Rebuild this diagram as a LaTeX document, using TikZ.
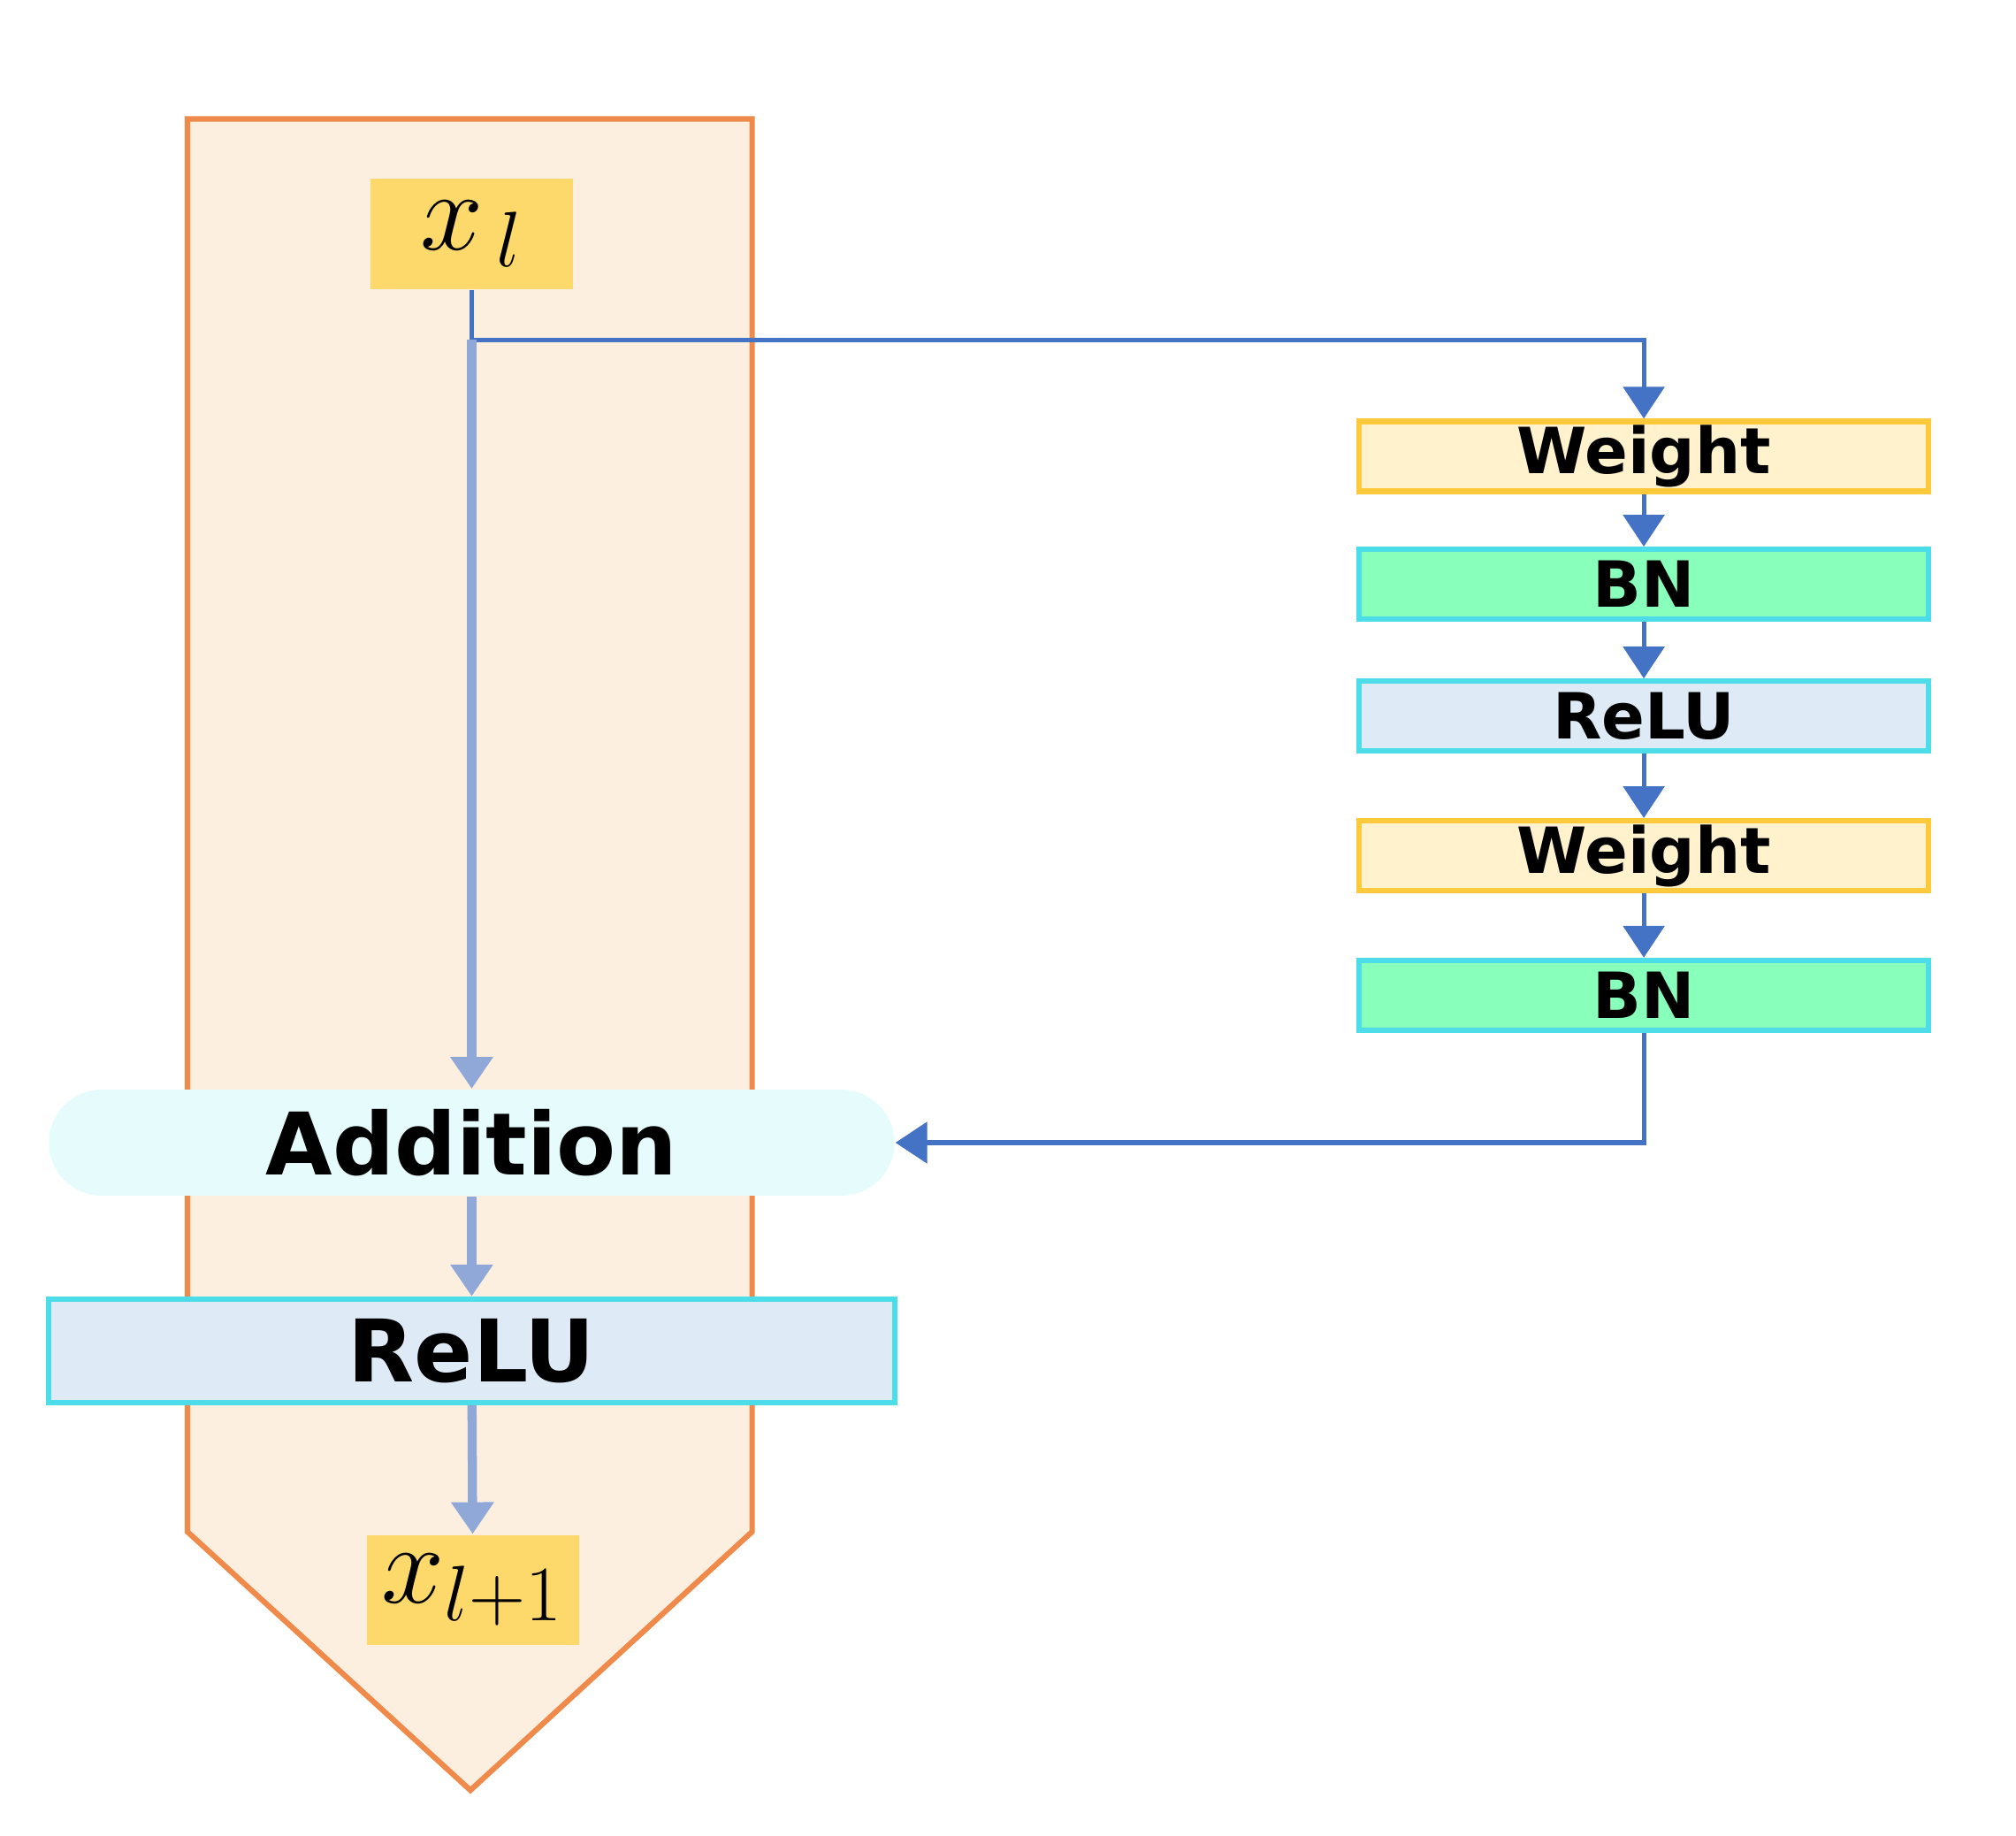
\documentclass[tikz,border=0pt]{standalone}
\usepackage{fontspec}
\setmainfont{DejaVu Sans}
\usetikzlibrary{arrows.meta}
\definecolor{bandfill}{HTML}{FDEFDF}
\definecolor{bandline}{HTML}{F08A4B}
\definecolor{xfill}{HTML}{FDD86A}
\definecolor{wfill}{HTML}{FFF2CC}
\definecolor{wline}{HTML}{FFC93C}
\definecolor{bnfill}{HTML}{88FFBB}
\definecolor{relufill}{HTML}{DEEAF6}
\definecolor{cyanline}{HTML}{4DDDE8}
\definecolor{addfill}{HTML}{E6FCFC}
\definecolor{flow}{HTML}{4472C4}
\definecolor{flowgray}{HTML}{8FA8D8}
\tikzset{
  blk/.style={draw, line width=1.2pt, minimum width=4.4cm, minimum height=0.54cm,
    inner sep=0pt, font=\fontsize{14}{14}\bfseries},
  xbox/.style={fill=xfill, inner sep=0pt, font=\fontsize{26}{26}\selectfont},
  flw/.style={flow, line width=1pt, -{Triangle[length=7pt,width=9pt]}},
}
\begin{document}
\begin{tikzpicture}[x=0.01cm, y=-0.01cm]
  \useasboundingbox (0,0) rectangle (1560,1420);

  % band
  \draw[bandline, fill=bandfill, line width=1.2pt]
    (145,92) -- (582,92) -- (582,1185) -- (364,1385) -- (145,1185) -- cycle;

  % main column
  \node[xbox, minimum width=1.57cm, minimum height=0.85cm] (xl) at (365,181) {$x_{\,l}$};
  \node[draw=none, fill=addfill, rounded corners=0.41cm, minimum width=6.54cm,
    minimum height=0.82cm, font=\fontsize{19}{19}\bfseries] (add) at (365,884) {Addition};
  \node[blk, draw=cyanline, fill=relufill, minimum width=6.54cm, minimum height=0.8cm,
    font=\fontsize{19}{19}\bfseries] (relu) at (365,1045) {ReLU};
  \node[xbox, minimum width=1.64cm, minimum height=0.85cm] (xo) at (366,1230) {$x_{l+1}$};

  % residual branch
  \node[blk, draw=wline, fill=wfill] (w1) at (1272,353) {Weight};
  \node[blk, draw=cyanline, fill=bnfill] (b1) at (1272,452) {BN};
  \node[blk, draw=cyanline, fill=relufill] (r1) at (1272,554) {ReLU};
  \node[blk, draw=wline, fill=wfill] (w2) at (1272,662) {Weight};
  \node[blk, draw=cyanline, fill=bnfill] (b2) at (1272,770) {BN};

  \coordinate (split) at (365,263);
  \draw[flow, line width=1pt] (xl.south) -- (split);
  \draw[flw] (split) -| (w1.north);
  \draw[flw, flowgray, line width=2pt] (split) -- (add.north);
  \draw[flw] (w1) -- (b1);
  \draw[flw] (b1) -- (r1);
  \draw[flw] (r1) -- (w2);
  \draw[flw] (w2) -- (b2);
  \draw[flw] (b2.south) |- (add.east);
  \draw[flw, flowgray, line width=2pt] (add) -- (relu);
  \draw[flw, flowgray, line width=2pt] (relu) -- (xo);
\end{tikzpicture}
\end{document}
